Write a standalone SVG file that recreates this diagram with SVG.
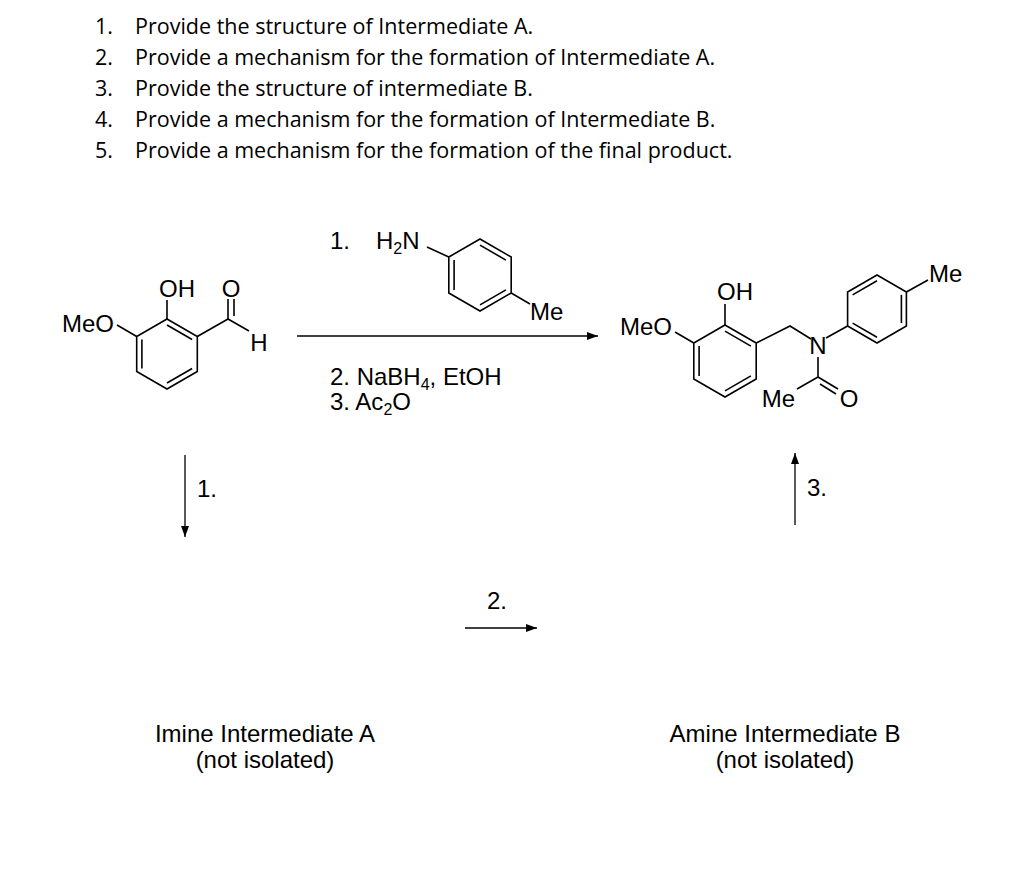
<svg xmlns="http://www.w3.org/2000/svg" width="1024" height="875" viewBox="0 0 1024 875">
<defs>
<style>
.q{font-family:"Open Sans",Lato,sans-serif;font-size:21.5px;fill:#000}
.t{font-family:"Liberation Sans",Arial,sans-serif;font-size:24px;fill:#000}
.b{stroke:#000;stroke-width:1.6;fill:none}
.a{stroke:#000;stroke-width:1.3;fill:none}
</style>
<marker id="ah" markerWidth="11" markerHeight="8" refX="11" refY="4" orient="auto" markerUnits="userSpaceOnUse"><path d="M0,0 L11,4 L0,8 Z" fill="#000"/></marker>
</defs>
<rect width="1024" height="875" fill="#fff"/>
<g id="questions" class="q">
<text x="95" y="34">1.</text><text x="135" y="34">Provide the structure of Intermediate A.</text>
<text x="95" y="65">2.</text><text x="135" y="65">Provide a mechanism for the formation of Intermediate A.</text>
<text x="95" y="96">3.</text><text x="135" y="96">Provide the structure of intermediate B.</text>
<text x="95" y="127">4.</text><text x="135" y="127">Provide a mechanism for the formation of Intermediate B.</text>
<text x="95" y="158">5.</text><text x="135" y="158">Provide a mechanism for the formation of the final product.</text>
</g>
<g id="start" class="b">
<polygon points="167,319 197.3,336.5 197.3,371.5 167,389 136.7,371.5 136.7,336.5"/>
<line x1="141.9" y1="339.5" x2="141.9" y2="368.5"/>
<line x1="167" y1="325" x2="192.1" y2="339.5"/>
<line x1="192.1" y1="368.5" x2="167" y2="383"/>
<line x1="167" y1="319" x2="167" y2="300"/>
<line x1="136.7" y1="336.5" x2="117" y2="325"/>
<polyline points="197.3,336.5 228,319 249,331"/>
<line x1="228" y1="319" x2="228" y2="299"/>
<line x1="234" y1="316" x2="234" y2="299"/>
<g class="t" stroke="none">
<text x="62" y="332">MeO</text>
<text x="177" y="297" text-anchor="middle">OH</text>
<text x="231" y="297" text-anchor="middle">O</text>
<text x="259" y="351" text-anchor="middle">H</text>
</g>
</g>
<g id="reagents">
<g class="b">
<polygon points="480,239 511.2,257 511.2,293 480,311 448.8,293 448.8,257"/>
<line x1="454.1" y1="260.1" x2="454.1" y2="289.9"/>
<line x1="480" y1="245.1" x2="505.9" y2="260.1"/>
<line x1="505.9" y1="289.9" x2="480" y2="304.9"/>
<line x1="427" y1="247" x2="448.8" y2="257"/>
<line x1="511.2" y1="293" x2="530" y2="304"/>
</g>
<g class="t">
<text x="330" y="249">1.</text>
<text x="376" y="249">H<tspan font-size="16" dy="5">2</tspan><tspan dy="-5">N</tspan></text>
<text x="530" y="320">Me</text>
<text x="330" y="385">2. NaBH<tspan font-size="16" dy="5">4</tspan><tspan dy="-5">, EtOH</tspan></text>
<text x="330" y="410">3. Ac<tspan font-size="16" dy="5">2</tspan><tspan dy="-5">O</tspan></text>
</g>
</g>
<g id="product">
<g class="b">
<polygon points="725,325 756.2,343 756.2,379 725,397 693.8,379 693.8,343"/>
<line x1="699.1" y1="346.1" x2="699.1" y2="375.9"/>
<line x1="725" y1="331.1" x2="750.9" y2="346.1"/>
<line x1="750.9" y1="375.9" x2="725" y2="390.9"/>
<line x1="725" y1="325" x2="725" y2="304"/>
<line x1="693.8" y1="343" x2="675" y2="332"/>
<polyline points="756.2,343 790,326 811,339"/>
<line x1="826" y1="338" x2="847.6" y2="326"/>
<polygon points="877,275 906.4,292 906.4,326 877,343 847.6,326 847.6,292"/>
<line x1="852.6" y1="294.9" x2="877" y2="280.8"/>
<line x1="901.4" y1="294.9" x2="901.4" y2="323.1"/>
<line x1="877" y1="337.2" x2="852.6" y2="323.1"/>
<line x1="906.4" y1="292" x2="928" y2="280"/>
<line x1="818" y1="357" x2="818" y2="377"/>
<line x1="818" y1="377" x2="797" y2="389"/>
<line x1="818" y1="377" x2="838" y2="389"/>
<line x1="820" y1="384" x2="836" y2="394"/>
</g>
<g class="t">
<text x="620" y="335">MeO</text>
<text x="735" y="300" text-anchor="middle">OH</text>
<text x="818" y="354" text-anchor="middle">N</text>
<text x="929" y="282">Me</text>
<text x="795" y="407" text-anchor="end">Me</text>
<text x="849" y="407" text-anchor="middle">O</text>
</g>
</g>
<g id="connectors" class="a">
<line x1="297" y1="336" x2="598" y2="336" marker-end="url(#ah)"/>
<line x1="185" y1="455" x2="185" y2="537" marker-end="url(#ah)"/>
<line x1="795" y1="525" x2="795" y2="453" marker-end="url(#ah)"/>
<line x1="465" y1="628" x2="537" y2="628" marker-end="url(#ah)"/>
</g>
<g id="labels" class="t">
<text x="197" y="497">1.</text>
<text x="807" y="496">3.</text>
<text x="487" y="609">2.</text>
<text x="265" y="742" text-anchor="middle">Imine Intermediate A</text>
<text x="265" y="768" text-anchor="middle">(not isolated)</text>
<text x="785" y="742" text-anchor="middle">Amine Intermediate B</text>
<text x="785" y="768" text-anchor="middle">(not isolated)</text>
</g>
</svg>
